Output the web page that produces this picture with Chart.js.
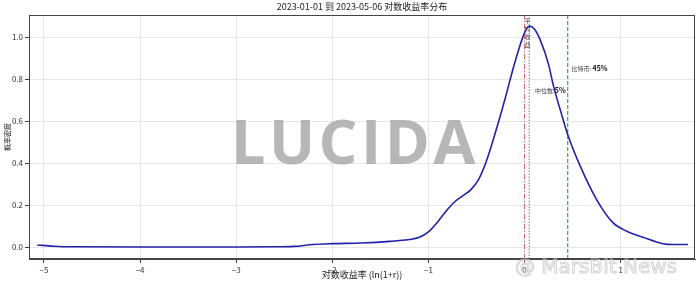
<!DOCTYPE html>
<html>
<head>
<meta charset="utf-8">
<script src="https://cdn.jsdelivr.net/npm/chart.js@4.4.1/dist/chart.umd.min.js"></script>
<style>
	html, body { margin: 0; padding: 0; background: #fff; }
	#wrap { width: 700px; height: 282px; }
</style>
</head>
<body>
<div id="wrap"><canvas id="chart" width="700" height="282"></canvas></div>
<script>
// log-return density (KDE)
var logReturn = [-5.07, -4.9, -4.7, -4.0, -3.0, -2.6, -2.4, -2.2, -2.0, -1.7, -1.4, -1.2, -1.1, -1.0, -0.9, -0.8, -0.72, -0.64, -0.56, -0.48, -0.4, -0.3, -0.2, -0.1, 0.0, 0.05, 0.1, 0.16, 0.25, 0.3, 0.4, 0.45, 0.58, 0.75, 0.92, 1.06, 1.24, 1.44, 1.55, 1.70];
var density = [0.010, 0.004, 0.001, 0.000, 0.000, 0.001, 0.003, 0.012, 0.016, 0.019, 0.027, 0.036, 0.045, 0.072, 0.122, 0.180, 0.218, 0.245, 0.272, 0.320, 0.405, 0.55, 0.71, 0.88, 1.02, 1.052, 1.04, 0.99, 0.87, 0.77, 0.61, 0.535, 0.385, 0.226, 0.116, 0.076, 0.045, 0.016, 0.012, 0.012];

var xTicks = [-5, -4, -3, -2, -1, 0, 1];
var yTicks = [0, 0.2, 0.4, 0.6, 0.8, 1.0];
var xRange = [-5.156, 1.774];
var yRange = [-0.057, 1.105];

// reference lines
var zeroLine = 0;
var medianLine = 0.049;
var btcLine = 0.45;

var titleText = "2023-01-01 到 2023-05-06 对数收益率分布";
var xTitle = "对数收益率 (ln(1+r))";
var yTitle = "概率密度";

var cjk = '"Noto Sans CJK SC", "DejaVu Sans", sans-serif';

function vline(x, color, dash) {
	return {
		data: [{x: x, y: yRange[0]}, {x: x, y: yRange[1]}],
		borderColor: color,
		borderWidth: 1,
		borderDash: dash,
		pointRadius: 0,
		fill: false
	};
}

var curve = [];
for (var i = 0; i < logReturn.length; i++) {
	curve.push({x: logReturn[i], y: density[i]});
}

var decor = {
	id: 'decor',
	beforeDatasetsDraw: function (chart) {
		var c = chart.ctx;
		// watermark
		c.save();
		c.fillStyle = 'rgba(165,165,165,0.8)';
		c.font = 'bold 61px "Open Sans", "DejaVu Sans", sans-serif';
		c.textBaseline = 'alphabetic';
		var word = "LUCIDA";
		var x = 231;
		for (var k = 0; k < word.length; k++) {
			c.fillText(word[k], x, 164);
			x += c.measureText(word[k]).width + 3.5;
		}
		c.restore();
	},
	afterDraw: function (chart) {
		var c = chart.ctx;
		var a = chart.chartArea;
		var xs = chart.scales.x, ys = chart.scales.y;
		c.save();
		c.strokeStyle = '#444';
		c.lineWidth = 1;
		c.strokeRect(a.left + 0.5, a.top + 0.5, a.right - a.left - 1, a.bottom - a.top - 1);

		// title
		c.fillStyle = '#222';
		c.font = '9px ' + cjk;
		c.textAlign = 'center';
		c.textBaseline = 'middle';
		c.fillText(titleText, (a.left + a.right) / 2, 7);
		c.fillText(xTitle, (a.left + a.right) / 2, 275);
		c.save();
		c.translate(7, (a.top + a.bottom) / 2);
		c.rotate(-Math.PI / 2);
		c.font = '7px ' + cjk;
		c.fillText(yTitle, 0, 0);
		c.restore();

		// vertical label at zero line
		c.font = '6px ' + cjk;
		c.fillStyle = '#444';
		var vt = "平均收益";
		for (var k = 0; k < vt.length; k++) {
			c.fillText(vt[k], xs.getPixelForValue(zeroLine) + 3, a.top + 6 + k * 8);
		}

		// annotations
		c.textAlign = 'left';
		c.font = '6px ' + cjk;
		c.fillStyle = '#444';
		var bx = xs.getPixelForValue(0.49), by = ys.getPixelForValue(0.85);
		c.fillText("比特币:", bx, by);
		var w = c.measureText("比特币: ").width;
		c.font = 'bold 7px ' + cjk;
		c.fillStyle = '#111';
		c.fillText("45%", bx + w, by);

		c.font = '6px ' + cjk;
		c.fillStyle = '#444';
		var mx = xs.getPixelForValue(0.11), my = ys.getPixelForValue(0.745);
		c.fillText("中位数:", mx, my);
		w = c.measureText("中位数:").width;
		c.font = 'bold 7px ' + cjk;
		c.fillStyle = '#111';
		c.fillText("5%", mx + w, my);

		// source watermark
		c.font = '20px "DejaVu Sans", sans-serif';
		c.strokeStyle = 'rgba(200,200,200,0.8)';
		c.lineWidth = 1;
		c.strokeText("@ MarsBit News", 515, 268);
		c.restore();
	}
};

new Chart(document.getElementById('chart').getContext('2d'), {
	type: 'line',
	data: {
		datasets: [
			{
				data: curve,
				borderColor: '#2222aa',
				borderWidth: 1.6,
				pointRadius: 0,
				cubicInterpolationMode: 'monotone',
				fill: false
			},
			vline(zeroLine, '#d46a6a', [5, 2, 1, 2]),
			vline(medianLine, '#777', [1.5, 1.5]),
			vline(btcLine, '#3d7d3d', [4, 2])
		]
	},
	plugins: [decor],
	options: {
		responsive: false,
		animation: false,
		layout: {padding: {top: 15, right: 5, left: 0, bottom: 0}},
		plugins: {legend: {display: false}, tooltip: {enabled: false}},
		scales: {
			x: {
				type: 'linear',
				min: xRange[0],
				max: xRange[1],
				afterBuildTicks: function (s) { s.ticks = xTicks.map(function (v) { return {value: v}; }); },
				afterFit: function (s) { s.height = 23; },
				grid: {color: '#e6e6e6', tickLength: 4, tickColor: '#444'},
				border: {color: '#444'},
				ticks: {
					color: '#333', padding: 2, maxRotation: 0,
					font: {size: 8, family: cjk},
					callback: function (v) { return String(v).replace('-', '\u2212'); }
				}
			},
			y: {
				min: yRange[0],
				max: yRange[1],
				afterBuildTicks: function (s) { s.ticks = yTicks.map(function (v) { return {value: v}; }); },
				afterFit: function (s) { s.width = 29; },
				grid: {color: '#e6e6e6', tickLength: 4, tickColor: '#444'},
				border: {color: '#444'},
				ticks: {
					color: '#333', padding: 2,
					font: {size: 8, family: cjk},
					callback: function (v) { return v.toFixed(1); }
				}
			}
		}
	}
});
</script>
</body>
</html>
